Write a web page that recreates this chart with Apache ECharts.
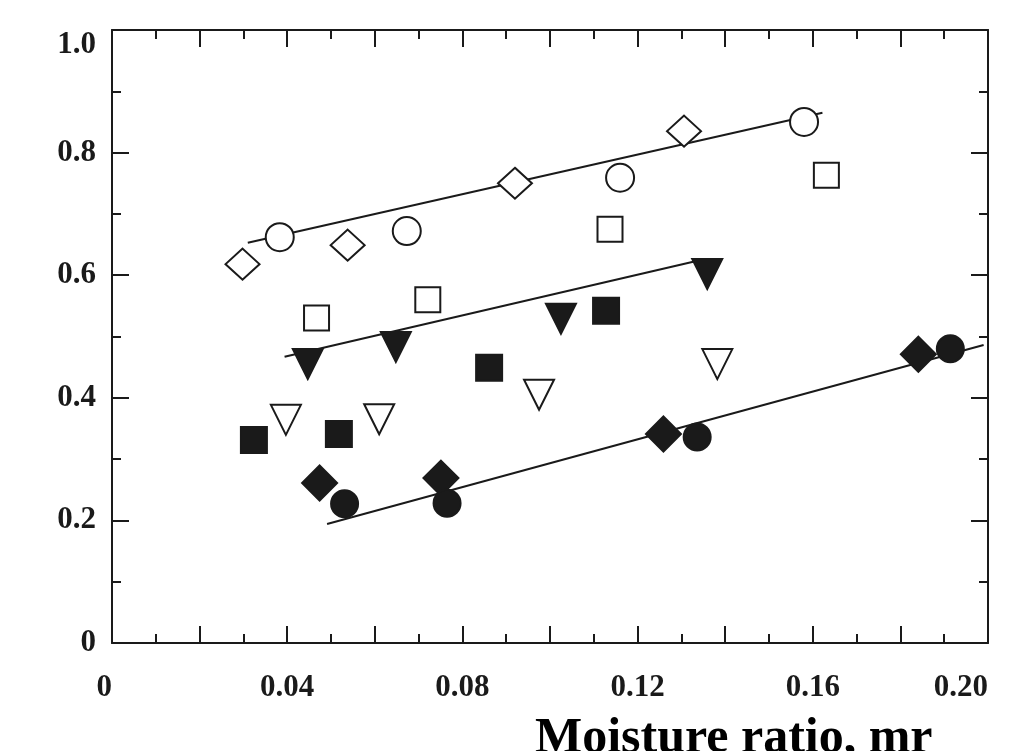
<!DOCTYPE html>
<html>
<head>
<meta charset="utf-8">
<script src="https://cdn.jsdelivr.net/npm/echarts@6/dist/echarts.min.js"></script>
<style>
html,body{margin:0;padding:0;background:#fff;}
#chart{width:1018px;height:751px;}
</style>
</head>
<body>
<div id="chart"></div>
<script>
// x tick labels shown every 0.04; y tick labels every 0.2
const xTickLabels = ['0', '0.04', '0.08', '0.12', '0.16', '0.20'];
const yTickLabels = ['0', '0.2', '0.4', '0.6', '0.8', '1.0'];
const xAxisTitle = 'Moisture ratio, mr';

// series [x, y]
const openCircles   = [[0.0383, 0.662], [0.0673, 0.672], [0.1160, 0.759], [0.1580, 0.850]];
const openDiamonds  = [[0.0298, 0.618], [0.0538, 0.649], [0.0920, 0.750], [0.1306, 0.835]];
const openSquares   = [[0.0467, 0.530], [0.0721, 0.560], [0.1137, 0.675], [0.1631, 0.763]];
const filledDownTri = [[0.0447, 0.455], [0.0648, 0.483], [0.1025, 0.529], [0.1359, 0.602]];
const filledSquares = [[0.0324, 0.331], [0.0518, 0.341], [0.0861, 0.449], [0.1128, 0.542]];
const openDownTri   = [[0.0397, 0.364], [0.0610, 0.365], [0.0975, 0.405], [0.1382, 0.455]];
const filledDiamonds= [[0.0474, 0.261], [0.0751, 0.269], [0.1259, 0.341], [0.1841, 0.471]];
const filledCircles = [[0.0531, 0.227], [0.0765, 0.228], [0.1336, 0.336], [0.1914, 0.480]];

// fitted lines (endpoints)
const lineUpper  = [[0.0310, 0.653], [0.1622, 0.865]];
const lineMiddle = [[0.0394, 0.467], [0.1327, 0.622]];
const lineLower  = [[0.0491, 0.194], [0.1990, 0.486]];

const chart = echarts.init(document.getElementById('chart'));
const black = '#1a1a1a';
const font = '"Liberation Serif", "DejaVu Serif", serif';

function scatter(data, symbol, size, filled, rotate) {
  return {
    type: 'scatter', data: data, symbol: symbol, symbolSize: size,
    symbolRotate: rotate || 0,
    itemStyle: { color: filled ? black : '#fff', borderColor: black, borderWidth: 2, opacity: 1 },
    z: 3
  };
}
function fitLine(data) {
  return {
    type: 'line', data: data, symbol: 'none', silent: true,
    lineStyle: { color: black, width: 2 }, z: 2
  };
}

const axisCommon = {
  type: 'value',
  axisLine: { show: true, onZero: false, lineStyle: { color: black, width: 2 } },
  axisTick: { show: true, inside: true, length: 17, lineStyle: { color: black, width: 2 } },
  minorTick: { show: true, splitNumber: 2, length: 9, lineStyle: { color: black, width: 2 } },
  splitLine: { show: false },
  minorSplitLine: { show: false }
};

function xLabel(v) {
  const k = Math.round(v * 100);
  if (k % 4 !== 0) return '';
  return xTickLabels[k / 4];
}
function yLabel(v) {
  const k = Math.round(v * 10);
  if (k % 2 !== 0) return '';
  const s = yTickLabels[k / 2];
  return k === 10 ? '{top|' + s + '}' : s;
}

chart.setOption({
  backgroundColor: '#fff',
  animation: false,
  grid: { left: 112, right: 30, top: 30, bottom: 108 },
  xAxis: [
    Object.assign({}, axisCommon, {
      min: 0, max: 0.2, interval: 0.02, position: 'bottom',
      axisLabel: { show: true, formatter: xLabel, color: black, fontFamily: font,
        fontWeight: 'bold', fontSize: 31, margin: 29, alignMinLabel: 'right', alignMaxLabel: 'right' }
    }),
    Object.assign({}, axisCommon, {
      min: 0, max: 0.2, interval: 0.02, position: 'top',
      axisLabel: { show: false }
    })
  ],
  yAxis: [
    Object.assign({}, axisCommon, {
      min: 0, max: 1, interval: 0.2, position: 'left',
      axisLabel: { show: true, formatter: yLabel, color: black, fontFamily: font,
        fontWeight: 'bold', fontSize: 31, margin: 16,
        rich: { top: { fontFamily: font, fontWeight: 'bold', fontSize: 31, color: black, padding: [30, 0, 0, 0] } } }
    }),
    Object.assign({}, axisCommon, {
      min: 0, max: 1, interval: 0.2, position: 'right',
      axisLabel: { show: false }
    })
  ],
  series: [
    fitLine(lineUpper),
    fitLine(lineMiddle),
    fitLine(lineLower),
    scatter(openCircles, 'circle', 28, false),
    scatter(openDiamonds, 'diamond', [34, 31], false),
    scatter(openSquares, 'rect', 25, false),
    scatter(filledDownTri, 'triangle', [30, 30], true, 180),
    scatter(filledSquares, 'rect', 26, true),
    scatter(openDownTri, 'triangle', [30, 30], false, 180),
    scatter(filledDiamonds, 'diamond', [35, 35], true),
    scatter(filledCircles, 'circle', 27, true)
  ],
  graphic: [{
    type: 'text', left: 535, top: 714,
    style: { text: xAxisTitle, fill: '#000', font: 'bold 50px "Liberation Serif", serif' }
  }]
});
</script>
</body>
</html>
